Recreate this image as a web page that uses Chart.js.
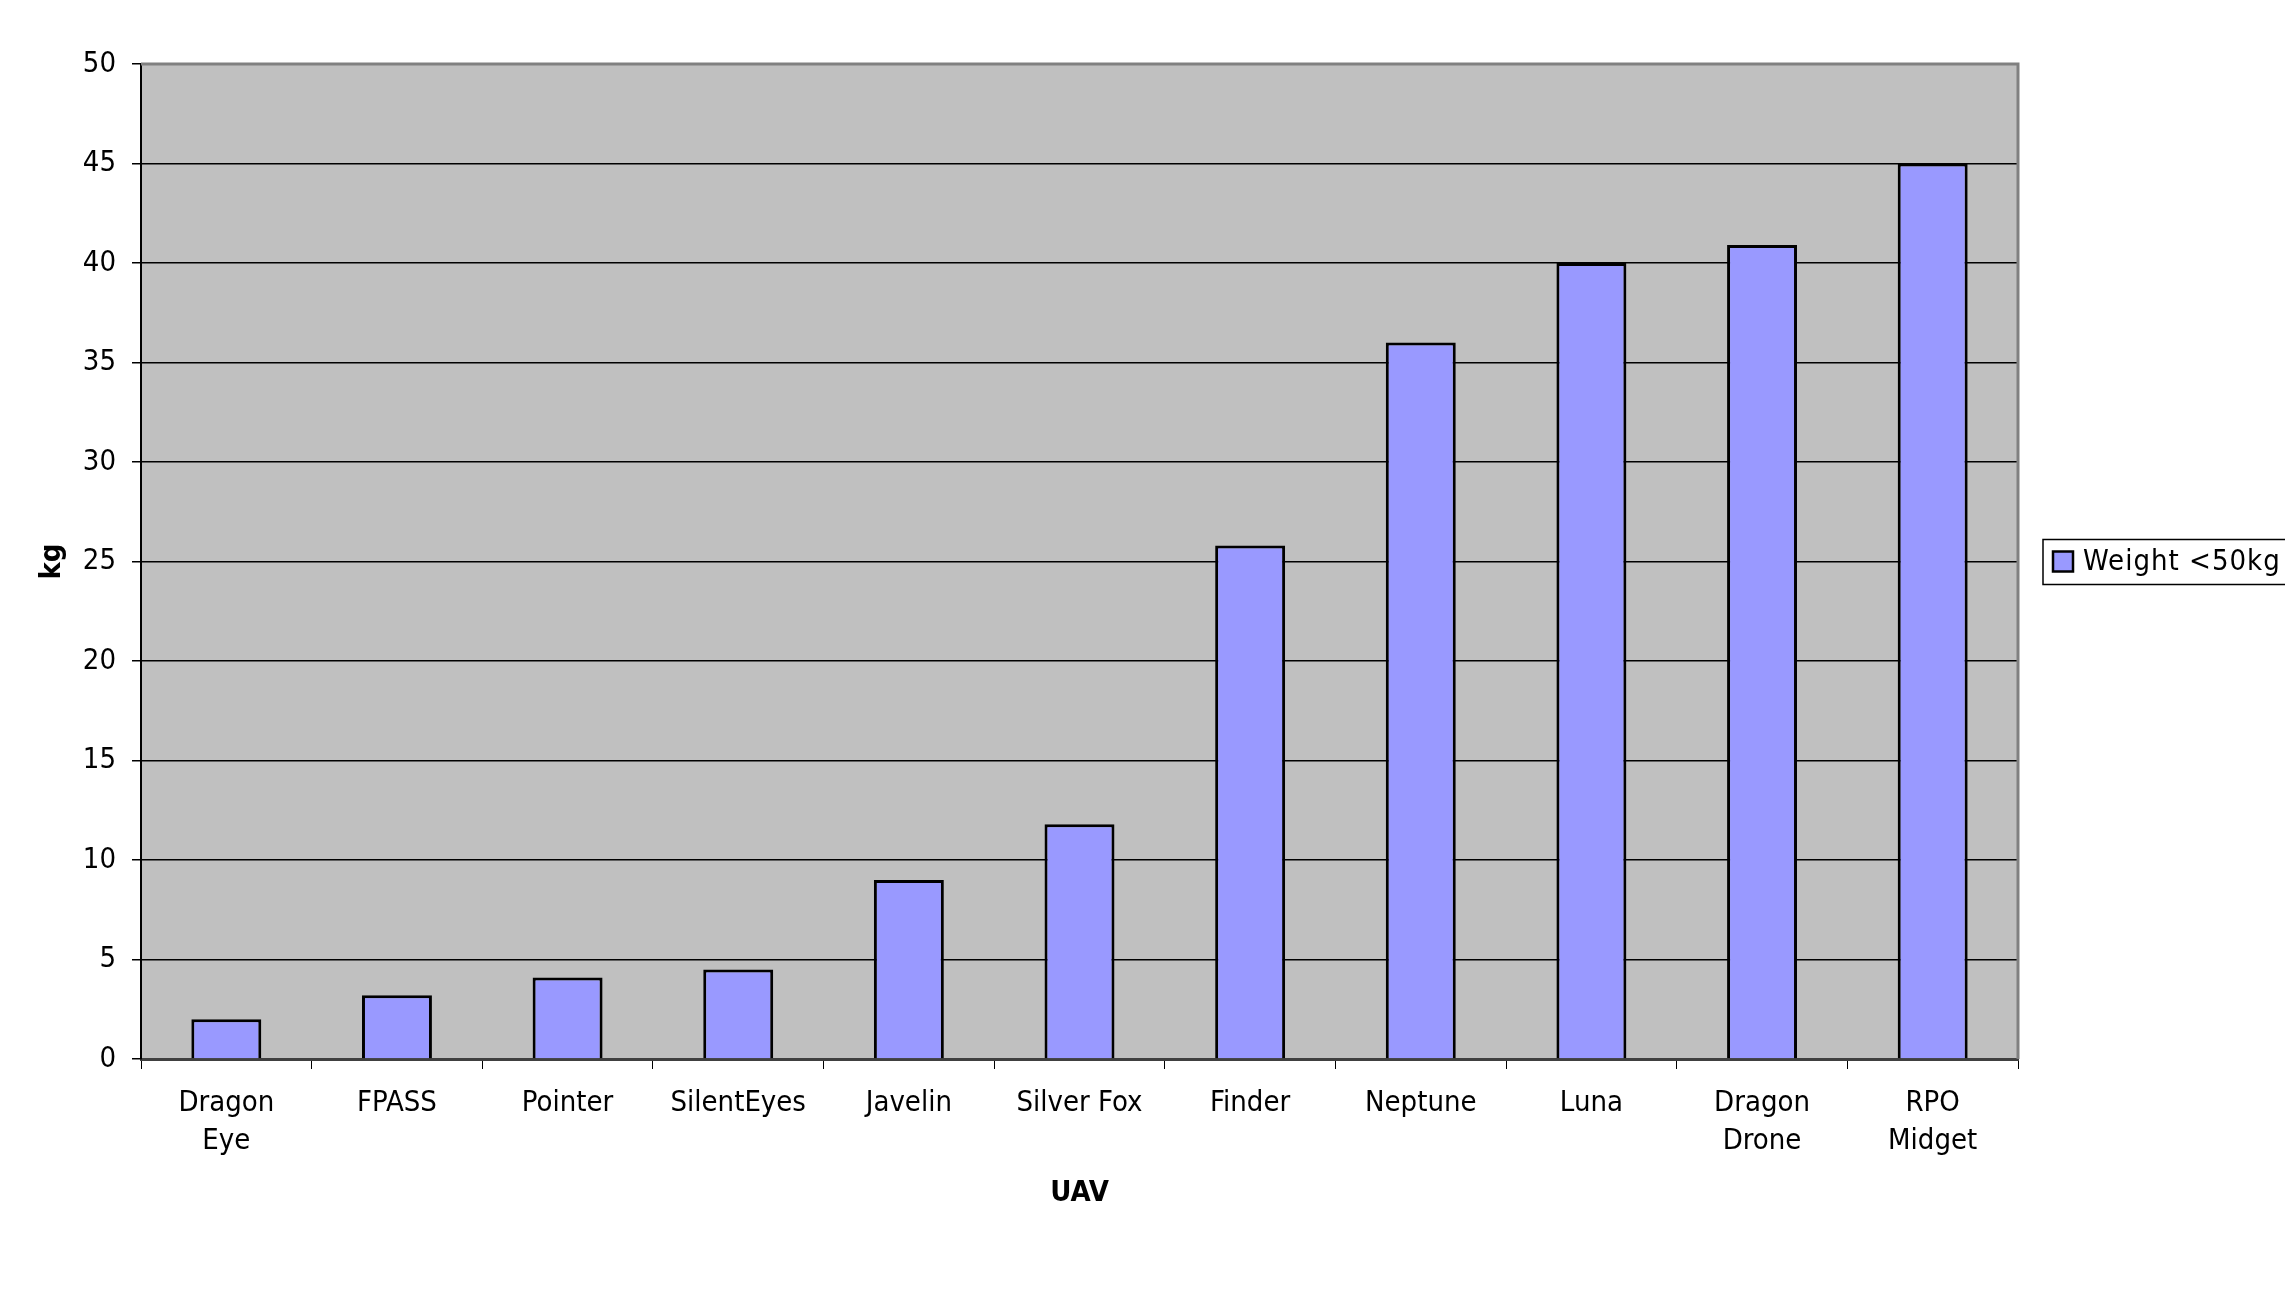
<!DOCTYPE html>
<html>
<head>
<meta charset="utf-8">
<script src="https://cdn.jsdelivr.net/npm/chart.js@4"></script>
<style>
  html, body { margin: 0; padding: 0; background: #ffffff; }
  #wrap { width: 2285px; height: 1291px; }
</style>
</head>
<body>
<div id="wrap"><canvas id="uavChart" width="2285" height="1291"></canvas></div>
<script>
// Data
const uavNames = [['Dragon', 'Eye'], 'FPASS', 'Pointer', 'SilentEyes', 'Javelin', 'Silver Fox',
                  'Finder', 'Neptune', 'Luna', ['Dragon', 'Drone'], ['RPO', 'Midget']];
const weightKg = [2, 3.2, 4.1, 4.5, 9, 11.8, 25.8, 36, 40, 40.9, 45];
const seriesName = 'Weight <50kg';
const yTicks = [0, 5, 10, 15, 20, 25, 30, 35, 40, 45, 50];

const FONT = '"DejaVu Sans Condensed", "DejaVu Sans", sans-serif';

// grey plot area + top/right frame
const plotFrame = {
    id: 'plotFrame',
    beforeDraw(chart) {
        const { ctx, chartArea: a } = chart;
        ctx.save();
        ctx.fillStyle = '#c0c0c0';
        ctx.fillRect(a.left, a.top, a.right - a.left, a.bottom - a.top);
        ctx.restore();
    },
    beforeDatasetsDraw(chart) {
        const { ctx, chartArea: a } = chart;
        ctx.save();
        ctx.strokeStyle = '#808080';
        ctx.lineWidth = 3;
        ctx.beginPath();
        ctx.moveTo(a.left, a.top);
        ctx.lineTo(a.right, a.top);
        ctx.lineTo(a.right, a.bottom);
        ctx.stroke();
        ctx.restore();
    }
};

// Excel-style legend box to the right of the plot
const sideLegend = {
    id: 'sideLegend',
    afterDraw(chart) {
        const { ctx, chartArea: a } = chart;
        const ds = chart.data.datasets[0];
        const x = a.right + 25;
        const yMid = (a.top + a.bottom) / 2;
        ctx.save();
        ctx.font = '29px ' + FONT;
        ctx.letterSpacing = '1px';
        const tw = ctx.measureText(ds.label).width;
        ctx.fillStyle = '#ffffff';
        ctx.fillRect(x, yMid - 22, tw + 60, 45);
        ctx.strokeStyle = '#000000';
        ctx.lineWidth = 1.5;
        ctx.strokeRect(x, yMid - 22, tw + 60, 45);
        ctx.fillStyle = ds.backgroundColor;
        ctx.fillRect(x + 10, yMid - 10, 20, 20);
        ctx.lineWidth = 2.5;
        ctx.strokeRect(x + 10, yMid - 10, 20, 20);
        ctx.fillStyle = '#000000';
        ctx.textBaseline = 'middle';
        ctx.fillText(ds.label, x + 40, yMid + 1);
        ctx.restore();
    }
};

new Chart(document.getElementById('uavChart'), {
    type: 'bar',
    data: {
        labels: uavNames,
        datasets: [{
            label: seriesName,
            data: weightKg,
            backgroundColor: '#9999ff',
            borderColor: '#000000',
            borderWidth: 3,
            barPercentage: 0.41,
            categoryPercentage: 1.0
        }]
    },
    options: {
        responsive: false,
        animation: false,
        devicePixelRatio: 1,
        layout: { padding: { left: 31, top: 64, right: 267, bottom: 76 } },
        plugins: {
            legend: { display: false },
            tooltip: { enabled: false }
        },
        scales: {
            x: {
                afterFit(scale) { scale.height = 156; },
                grid: {
                    offset: true,
                    drawOnChartArea: false,
                    drawTicks: true,
                    tickLength: 10,
                    tickColor: '#000000',
                    tickWidth: 1
                },
                border: { display: true, color: '#404040', width: 3 },
                ticks: {
                    color: '#000000',
                    padding: 16,
                    maxRotation: 0,
                    autoSkip: false,
                    font: { family: FONT, size: 29, lineHeight: 1.3 }
                },
                title: {
                    display: true,
                    text: 'UAV',
                    color: '#000000',
                    padding: { top: 4, bottom: 4 },
                    font: { family: FONT, size: 29, weight: 'bold' }
                }
            },
            y: {
                min: 0,
                max: 50,
                afterFit(scale) { scale.width = 110; },
                afterBuildTicks(scale) { scale.ticks = yTicks.map(v => ({ value: v })); },
                grid: {
                    color: ctx => (ctx.tick && ctx.tick.value === 50) ? 'rgba(0,0,0,0)' : '#000000',
                    lineWidth: 1.5,
                    drawTicks: true,
                    tickLength: 9,
                    tickColor: '#000000'
                },
                border: { display: true, color: '#000000', width: 2 },
                ticks: {
                    color: '#000000',
                    padding: 16,
                    font: { family: FONT, size: 29 }
                },
                title: {
                    display: true,
                    text: 'kg',
                    color: '#000000',
                    padding: { top: 4, bottom: 4 },
                    font: { family: FONT, size: 29, weight: 'bold' }
                }
            }
        }
    },
    plugins: [plotFrame, sideLegend]
});
</script>
</body>
</html>
